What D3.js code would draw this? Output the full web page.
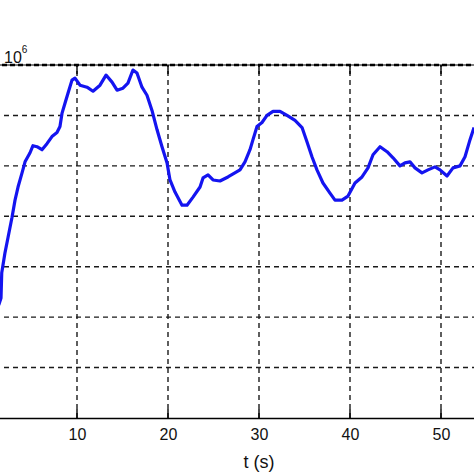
<!DOCTYPE html>
<html>
<head>
<meta charset="utf-8">
<script src="https://cdn.jsdelivr.net/npm/d3@7"></script>
<style>
  html, body { margin: 0; padding: 0; background: #fff; }
  svg { display: block; }
  text { font-family: "Liberation Sans", Arial, sans-serif; fill: #111; }
</style>
</head>
<body>
<svg id="chart" width="474" height="474"></svg>
<script>
// time (s)
const tValues = [1.4, 1.65, 1.73, 2.09, 2.42, 2.86, 3.19, 3.52, 3.96, 4.29, 4.84, 5.16, 5.60, 6.15, 6.70, 7.25, 7.80, 8.13, 8.35, 8.68,
  9.01, 9.45, 9.78, 10.33, 11.10, 11.76, 12.53, 13.19, 13.85, 14.40, 15.05, 15.60, 16.15, 16.59, 17.14, 17.69, 18.24, 18.79, 19.34, 19.89,
  20.22, 20.77, 21.54, 22.09, 22.75, 23.52, 23.85, 24.40, 24.95, 25.71, 26.59, 27.91, 28.46, 29.01, 29.34, 29.78, 30.33, 30.88, 31.54, 32.31,
  33.08, 33.96, 34.73, 35.27, 35.82, 36.37, 37.03, 37.80, 38.35, 39.12, 39.78, 40.55, 41.32, 41.98, 42.53, 43.30, 44.07, 44.73, 45.49, 46.04,
  46.59, 47.14, 47.91, 48.57, 49.34, 49.89, 50.66, 51.32, 52.09, 52.64, 53.19, 53.63];
// value (x 10^6)
const vValues = [1.12, 1.19, 1.44, 1.64, 1.79, 1.99, 2.16, 2.29, 2.43, 2.54, 2.63, 2.70, 2.69, 2.66, 2.72, 2.79, 2.83, 2.89, 3.02, 3.12,
  3.22, 3.35, 3.37, 3.30, 3.28, 3.24, 3.30, 3.40, 3.33, 3.25, 3.27, 3.32, 3.45, 3.42, 3.28, 3.20, 3.05, 2.86, 2.69, 2.53,
  2.36, 2.24, 2.11, 2.11, 2.19, 2.29, 2.38, 2.41, 2.36, 2.35, 2.39, 2.46, 2.54, 2.66, 2.76, 2.89, 2.93, 3.00, 3.04, 3.04,
  3.00, 2.95, 2.88, 2.74, 2.59, 2.46, 2.33, 2.23, 2.16, 2.16, 2.20, 2.33, 2.39, 2.48, 2.61, 2.69, 2.64, 2.58, 2.50, 2.53,
  2.54, 2.48, 2.43, 2.46, 2.49, 2.46, 2.40, 2.48, 2.50, 2.59, 2.76, 2.88];
const xTicks = [10, 20, 30, 40, 50];
const yGrid = [0.5, 1.0, 1.5, 2.0, 2.5, 3.0];
const xLabel = "t (s)";
const yExponent = "6";

const svg = d3.select("#chart");
const x = d3.scaleLinear().domain([0, 60]).range([-14, 532]);
const y = d3.scaleLinear().domain([0, 3.5]).range([418, 65]);
const x0 = x(0), x1 = x(60), yTop = y(3.5), yBot = y(0);

// vertical grid
const gridStyle = sel => sel.attr("stroke", "#1a1a1a").attr("stroke-width", 1.4).attr("stroke-dasharray", "5,4");
svg.append("g").selectAll("line").data(xTicks).join("line")
  .attr("x1", d => x(d)).attr("x2", d => x(d)).attr("y1", yBot).attr("y2", yTop)
  .call(gridStyle);
// horizontal grid
svg.append("g").selectAll("line").data(yGrid).join("line")
  .attr("x1", x0).attr("x2", x1).attr("y1", d => y(d)).attr("y2", d => y(d))
  .call(gridStyle);
// top grid line over the box edge
svg.append("line").attr("x1", x0).attr("x2", x1).attr("y1", yTop).attr("y2", yTop)
  .attr("stroke", "#000").attr("stroke-width", 1.2);
svg.append("line").attr("x1", x0).attr("x2", x1).attr("y1", yTop).attr("y2", yTop)
  .attr("stroke", "#000").attr("stroke-width", 2.6).attr("stroke-dasharray", "5,3");

// bottom axis
const xAxis = d3.axisBottom(x).tickValues(xTicks).tickSize(0).tickPadding(11)
  .tickFormat(d => d);
const gx = svg.append("g").attr("transform", `translate(0,${yBot})`).call(xAxis);
gx.select(".domain").attr("stroke", "#000").attr("stroke-width", 1.6);
gx.selectAll("text").attr("font-size", 16).attr("font-family", "Liberation Sans, Arial, sans-serif").attr("fill", "#222");

// inner ticks (MATLAB style) at bottom and top
svg.append("g").selectAll("line").data(xTicks).join("line")
  .attr("x1", d => x(d)).attr("x2", d => x(d)).attr("y1", yBot).attr("y2", yBot - 9)
  .attr("stroke", "#000").attr("stroke-width", 1.4);
svg.append("g").selectAll("line").data(xTicks).join("line")
  .attr("x1", d => x(d)).attr("x2", d => x(d)).attr("y1", yTop).attr("y2", yTop + 9)
  .attr("stroke", "#000").attr("stroke-width", 1.4);

// data line
const pts = tValues.map((t, i) => [t, vValues[i]]);
svg.append("path").datum(pts)
  .attr("fill", "none").attr("stroke", "#1414f0").attr("stroke-width", 3.2)
  .attr("stroke-linejoin", "round")
  .attr("d", d3.line().x(d => x(d[0])).y(d => y(d[1])));

// x label
svg.append("text").attr("x", x(30)).attr("y", 468).attr("text-anchor", "middle")
  .attr("font-size", 18).attr("fill", "#222").text(xLabel);

// exponent label
const ex = svg.append("text").attr("x", 4).attr("y", 63).attr("font-size", 16).attr("fill", "#222");
ex.append("tspan").text("10");
ex.append("tspan").attr("dy", -10).attr("font-size", 10).text(yExponent);
</script>
</body>
</html>
